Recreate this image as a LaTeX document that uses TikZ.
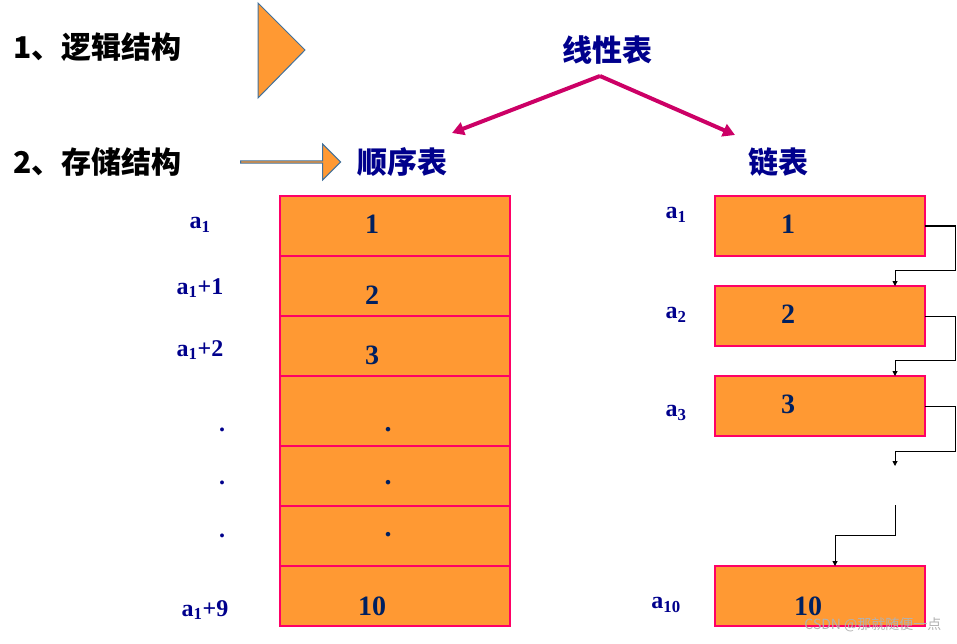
\documentclass[tikz,border=0pt]{standalone}
\usepackage{fontspec}
\setmainfont{Liberation Serif}
\newfontfamily\cjk{Noto Sans CJK SC}
\usetikzlibrary{arrows.meta,shapes.arrows}
\definecolor{org}{RGB}{255,153,51}
\definecolor{mag}{RGB}{255,0,102}
\definecolor{navy}{RGB}{0,32,96}
\definecolor{lblue}{RGB}{0,0,140}
\definecolor{dmag}{RGB}{204,0,102}
\definecolor{sblue}{RGB}{65,113,156}
\tikzset{
 cell/.style={draw=mag,line width=1.5pt,fill=org},
 num/.style={font=\bfseries\fontsize{28}{30}\selectfont,text=navy},
 lbl/.style={font=\bfseries\fontsize{24}{26}\selectfont,text=lblue},
 head/.style={font=\cjk\bfseries\fontsize{30}{32}\selectfont},
 link/.style={draw=black,line width=1pt,-{Triangle[length=5pt,width=5pt]}},
 pink/.style={draw=dmag,line width=4pt,-{Triangle[length=12pt,width=13pt]}}
}
\begin{document}
\begin{tikzpicture}[x=1pt,y=-1pt]
\useasboundingbox (0,0) rectangle (957,644);
\node[head,anchor=west] (t1) at (10,47) {1、逻辑结构};
\node[head,anchor=west] (t2) at (10,162) {2、存储结构};
\draw[fill=org,draw=sblue,line width=1pt] (258,3) -- (305,50) -- (258,98) -- cycle;
\node[single arrow,draw=sblue,fill=org,line width=1pt,minimum width=36pt,single arrow head extend=7pt,minimum height=100pt,inner sep=0pt,single arrow tip angle=90] (ba) at (290,162) {};
\node[head,text=lblue] (lin) at (607,50) {线性表};
\node[head,text=lblue] (seq) at (402,162) {顺序表};
\node[head,text=lblue] (lnk) at (778,162) {链表};
\coordinate (top) at (600,76);
\draw[pink] (top) -- (452,133);
\draw[pink] (top) -- (735,135);
% sequential table
\foreach \a/\b in {196/256,256/316,316/376,376/446,446/506,506/566,566/626}
 \draw[cell] (280,\a) rectangle (510,\b);
\node[num] (s1) at (372,224) {1};
\node[num] (s2) at (372,295) {2};
\node[num] (s3) at (372,355) {3};
\foreach \y/\n in {430/d1,483/d2,535/d3} \node[num] (\n) at (388,\y) {.};
\node[num] (s10) at (372,606) {10};
\node[lbl] (l1) at (200,225) {a\textsubscript{1}};
\node[lbl] (l2) at (200,288) {a\textsubscript{1}+1};
\node[lbl] (l3) at (200,350) {a\textsubscript{1}+2};
\foreach \y/\n in {438/e1,491/e2,544/e3} \node[lbl] (\n) at (222,\y-8) {.};
\node[lbl] (l10) at (205,610) {a\textsubscript{1}+9};
% linked list
\foreach \a/\n in {196/r1,286/r2,376/r3,566/r10}
 \draw[cell] (715,\a) rectangle (925,\a+60) node[midway] (\n) {};
\node[num] at (788,224) {1};
\node[num] at (788,314) {2};
\node[num] at (788,404) {3};
\node[num] at (808,606) {10};
\node[lbl] (m1) at (676,215) {a\textsubscript{1}};
\node[lbl] (m2) at (676,315) {a\textsubscript{2}};
\node[lbl] (m3) at (676,413) {a\textsubscript{3}};
\node[lbl] (m10) at (666,605) {a\textsubscript{10}};
\coordinate (g1) at (895,466);
\coordinate (g2) at (895,505);
\draw[link] (925,226) -| (955,270) -| (895,286);
\draw[link] (925,316) -| (955,360) -| (895,376);
\draw[link] (925,406) -| (955,451) -| (g1);
\draw[link] (g2) |- (835,535) -- (835,566);
\node[font=\fontsize{14}{14}\selectfont\cjk,text=gray!60,anchor=east] (wm) at (945,625) {CSDN @那就随便一点};
\end{tikzpicture}
\end{document}
